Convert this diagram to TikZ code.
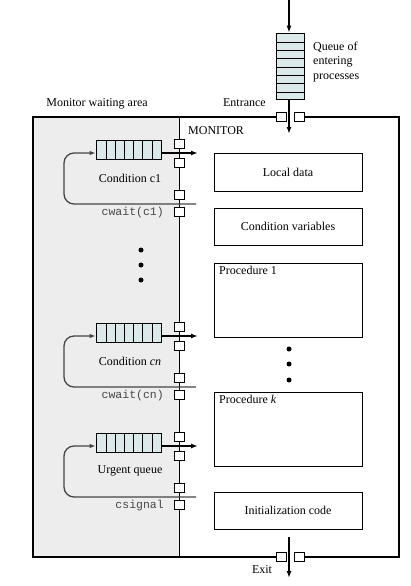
\documentclass[tikz,border=0pt]{standalone}
\usepackage{fontspec}
\setmainfont{Liberation Serif}
\setmonofont{Liberation Mono}
\usetikzlibrary{arrows.meta}
\definecolor{waitgray}{HTML}{EDEDED}
\definecolor{qfill}{HTML}{DCE9EB}
\definecolor{loopgray}{HTML}{454545}
\tikzset{
  txt/.style={inner sep=0pt, font=\fontsize{12}{14.5}\selectfont},
  mono/.style={inner sep=0pt, text=black!72, font=\ttfamily\fontsize{11.5}{13}\selectfont},
  port/.style={draw, fill=white, line width=0.8pt, minimum width=10pt, minimum height=9pt, inner sep=0pt},
  queueh/.style={draw, fill=qfill, line width=0.8pt, minimum width=65pt, minimum height=19pt, inner sep=0pt},
  queuev/.style={draw, fill=qfill, line width=0.8pt, minimum width=28pt, minimum height=66pt, inner sep=0pt},
  partbox/.style={draw, line width=0.9pt, minimum width=148pt, inner sep=0pt, font=\fontsize{12}{14.5}\selectfont},
  outarrow/.style={line width=1.6pt, -{Latex[length=7pt,width=5pt]}},
  looparrow/.style={draw=loopgray, line width=1.3pt, rounded corners=10pt, -{Latex[length=6pt,width=4.5pt]}},
  flowarrow/.style={line width=1.6pt, -{Latex[length=7pt,width=5pt]}},
  dotmark/.style={circle, fill, inner sep=0pt, minimum size=5pt},
}
\newcommand\mongroup[4]{%
  \begin{scope}[shift={(0,#2)}]
    \node[queueh] (#1q) at (128.5,149.5) {};
    \foreach \xx in {106,115,124,133,142,152} \draw[line width=0.8pt] (\xx,140) -- (\xx,159);
    \coordinate (#1out) at (198,153);
    \draw[outarrow] (#1q.east |- #1out) -- (#1out);
    \node[txt] (#1l) at (130,178) {#3};
    \coordinate (#1ret) at (196,204);
    \coordinate (#1corner) at (64,204);
    \coordinate (#1up) at (64,153);
    \draw[looparrow] (#1ret) -- (#1corner) -- (#1up) -- (#1q.west |- #1out);
    \node[mono, anchor=east] (#1m) at (164,213) {#4};
    \node[port] (#1p1) at (179,144) {};
    \node[port] (#1p2) at (179,163) {};
    \node[port] (#1p3) at (179,195) {};
    \node[port] (#1p4) at (179,212) {};
  \end{scope}}
\begin{document}
\begin{tikzpicture}[x=1pt,y=-1pt]
\useasboundingbox (0,0) rectangle (410,586);
% waiting area
\fill[waitgray] (33,117) rectangle (179,557);
\draw[line width=0.6pt] (179,117) -- (179,557);
% monitor outline
\coordinate (tl) at (33,117);
\coordinate (tr) at (399,117);
\coordinate (br) at (399,557);
\coordinate (bl) at (33,557);
\coordinate (entL) at (277,117);
\coordinate (entR) at (303,117);
\coordinate (exL) at (277,557);
\coordinate (exR) at (303,557);
\draw[line width=1.2pt] (entL) -- (tl) -- (bl) -- (exL);
\draw[line width=1.2pt] (entR) -- (tr) -- (br) -- (exR);
% labels
\node[txt] (mwa) at (97,104) {Monitor waiting area};
\node[txt, anchor=east] (entr) at (266,103) {Entrance};
\node[txt, anchor=west] (mon) at (188,131) {MONITOR};
% entering queue
\node[queuev] (eq) at (290,66) {};
\foreach \yy in {42,50.3,58.7,67,75.3,83.7,92} \draw[line width=0.8pt] (276,\yy) -- (304,\yy);
\node[txt, anchor=west, align=left] (eqlbl) at (313,62) {Queue of\\entering\\processes};
\coordinate (src) at (289,0);
\coordinate (inside) at (289,134);
\draw[flowarrow] (src) -- (eq.north -| src);
\draw[flowarrow] (eq.south -| src) -- (inside);
\node[port] (ep1) at (281,117) {};
\node[port] (ep2) at (299,117) {};
% exit
\coordinate (exTop) at (289,537);
\coordinate (exOut) at (289,578);
\draw[flowarrow] (exTop) -- (exOut);
\node[port] (xp1) at (281,557) {};
\node[port] (xp2) at (299,557) {};
\node[txt] (exit) at (262,570) {Exit};
% condition groups
\mongroup{ca}{0}{Condition c1}{cwait(c1)}
\mongroup{cb}{183}{Condition \textit{cn}}{cwait(cn)}
\mongroup{cu}{293}{Urgent queue}{csignal}
% dots
\node[dotmark] (ld1) at (141,250) {};
\node[dotmark] (ld2) at (141,265) {};
\node[dotmark] (ld3) at (141,280) {};
\node[dotmark] (rd1) at (289,349) {};
\node[dotmark] (rd2) at (289,364) {};
\node[dotmark] (rd3) at (289,380) {};
% monitor parts
\node[partbox, minimum height=38pt] (local) at (288,172) {Local data};
\node[partbox, minimum height=37pt] (cvars) at (288,226.5) {Condition variables};
\node[partbox, minimum height=74pt] (proc1) at (288,300) {};
\node[txt, anchor=north west] (p1lbl) at (219,266) {Procedure 1};
\node[partbox, minimum height=74pt] (prock) at (288,429) {};
\node[txt, anchor=north west] (pklbl) at (219,395) {Procedure \textit{k}};
\node[partbox, minimum height=37pt] (init) at (288,510.5) {Initialization code};
\end{tikzpicture}
\end{document}
